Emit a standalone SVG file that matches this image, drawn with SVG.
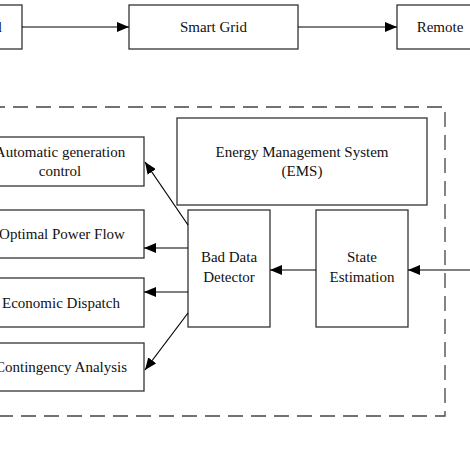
<svg xmlns="http://www.w3.org/2000/svg" width="470" height="470" viewBox="0 0 470 470">
<defs>
<marker id="ah" markerWidth="12" markerHeight="10" refX="12" refY="5" orient="auto" markerUnits="userSpaceOnUse">
<path d="M0,0 L12,5 L0,10 Z" fill="#000"/>
</marker>
<style>
.box{fill:#fff;stroke:#333;stroke-width:1.3}
.t{font-family:"Liberation Serif","Times New Roman",serif;font-size:15px;fill:#111;text-anchor:middle}
.c{stroke:#000;stroke-width:1.2;fill:none;marker-end:url(#ah)}
.dash{fill:none;stroke:#444;stroke-width:1.3;stroke-dasharray:15 8}
</style>
</defs>
<rect width="470" height="470" fill="#fff"/>
<path class="dash" d="M-10,107 H445 V416 H-10"/>
<g id="control"><rect class="box" x="-40" y="5" width="62" height="44"/><text class="t" x="0" y="32">l</text></g>
<g id="smartgrid"><rect class="box" x="129" y="5" width="169" height="44"/><text class="t" x="213.5" y="32">Smart Grid</text></g>
<g id="remote"><rect class="box" x="397" y="5" width="90" height="44"/><text class="t" x="440" y="32">Remote</text></g>
<g id="ems"><rect class="box" x="177" y="118" width="250" height="87"/><text class="t" x="302" y="157">Energy Management System</text><text class="t" x="302" y="176">(EMS)</text></g>
<g id="agc"><rect class="box" x="-30" y="137" width="174" height="49"/><text class="t" x="60" y="157">Automatic generation</text><text class="t" x="60" y="176">control</text></g>
<g id="opf"><rect class="box" x="-30" y="210" width="174" height="48"/><text class="t" x="62" y="239">Optimal Power Flow</text></g>
<g id="ed"><rect class="box" x="-30" y="278" width="174" height="49"/><text class="t" x="61" y="308">Economic Dispatch</text></g>
<g id="ca"><rect class="box" x="-30" y="343" width="174" height="48"/><text class="t" x="61" y="372">Contingency Analysis</text></g>
<g id="bdd"><rect class="box" x="188" y="210" width="82" height="117"/><text class="t" x="229" y="262">Bad Data</text><text class="t" x="229" y="282">Detector</text></g>
<g id="se"><rect class="box" x="316" y="210" width="92" height="117"/><text class="t" x="362" y="262">State</text><text class="t" x="362" y="282">Estimation</text></g>
<g id="connectors">
<line class="c" x1="22" y1="27" x2="129" y2="27"/>
<line class="c" x1="298" y1="27" x2="397" y2="27"/>
<line class="c" x1="480" y1="270" x2="408" y2="270"/>
<line class="c" x1="316" y1="270" x2="270" y2="270"/>
<line class="c" x1="188" y1="225" x2="145" y2="162"/>
<line class="c" x1="188" y1="248" x2="144" y2="248"/>
<line class="c" x1="188" y1="292" x2="144" y2="292"/>
<line class="c" x1="188" y1="313" x2="145" y2="370"/>
</g>
</svg>
